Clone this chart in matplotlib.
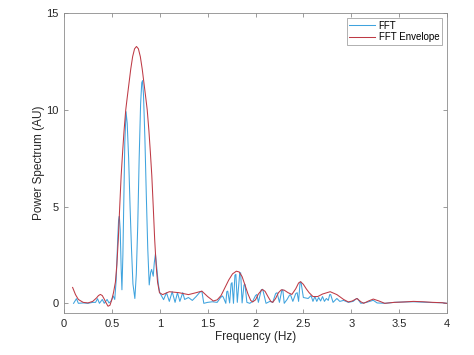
import matplotlib
matplotlib.use("Agg")
import matplotlib.pyplot as plt

plt.rcParams['font.family'] = ['Liberation Sans', 'DejaVu Sans']

# FFT (blue) trace
fft_freq = [0.10, 0.13, 0.15, 0.20, 0.25, 0.30, 0.33, 0.35, 0.37, 0.40, 0.42, 0.45, 0.47, 0.49,
            0.515, 0.53, 0.545, 0.56, 0.57, 0.578, 0.587, 0.597, 0.605,
            0.615, 0.625, 0.635, 0.648, 0.66, 0.675, 0.69, 0.705, 0.72, 0.74,
            0.755, 0.77, 0.785, 0.80, 0.812, 0.82, 0.83, 0.845, 0.86, 0.875, 0.89,
            0.905, 0.915, 0.925, 0.932, 0.943, 0.955, 0.97, 0.985, 1.00,
            1.04, 1.07, 1.10, 1.13, 1.16, 1.185, 1.21, 1.24, 1.26, 1.30, 1.34, 1.38, 1.42, 1.44,
            1.46, 1.50, 1.55, 1.60, 1.635, 1.655, 1.665, 1.69, 1.70, 1.71, 1.73, 1.745, 1.755,
            1.77, 1.785, 1.795, 1.81, 1.835, 1.845, 1.86, 1.88, 1.89, 1.91, 1.94, 1.97,
            2.00, 2.015, 2.03, 2.06, 2.075, 2.11, 2.15, 2.18, 2.21, 2.225, 2.25, 2.275, 2.285,
            2.30, 2.33, 2.355, 2.365, 2.39, 2.42, 2.435, 2.45, 2.465, 2.475, 2.50, 2.55, 2.58,
            2.60, 2.62, 2.64, 2.66, 2.68, 2.70, 2.72, 2.74, 2.76, 2.775, 2.785, 2.81, 2.85,
            2.88, 2.92, 2.97, 3.02, 3.055, 3.065, 3.10, 3.16, 3.225, 3.235, 3.27, 3.35, 3.45,
            3.55, 3.65, 3.75, 3.85, 3.95, 4.00]
fft_power = [0.00, 0.24, 0.00, 0.02, 0.00, 0.05, 0.05, 0.24, 0.00, 0.20, 0.00, 0.20, 0.02, 0.10,
             0.38, 0.20, 1.20, 3.20, 4.30, 4.50, 3.80, 1.80, 0.70,
             2.50, 5.50, 8.30, 9.90, 9.30, 7.50, 5.00, 2.80, 1.00, 0.25,
             1.50, 4.00, 7.50, 10.30, 11.40, 11.50, 10.80, 8.50, 5.50, 2.80, 0.95,
             1.60, 1.75, 1.55, 1.40, 2.10, 2.55, 1.80, 1.00, 0.55,
             0.19, 0.55, 0.10, 0.60, 0.05, 0.55, 0.10, 0.55, 0.20, 0.30, 0.15, 0.35, 0.58, 0.62,
             0.00, 0.05, 0.08, 0.05, 0.30, 0.38, 0.30, 0.00, 0.60, 0.63, 0.02, 1.00, 1.07,
             0.00, 1.45, 1.50, 0.05, 1.55, 1.58, 0.02, 0.95, 0.98, 0.05, 0.00, 0.10,
             0.40, 0.46, 0.05, 0.70, 0.72, 0.00, 0.10, 0.05, 0.50, 0.55, 0.05, 0.68, 0.70,
             0.00, 0.20, 0.42, 0.45, 0.10, 0.50, 0.55, 0.10, 1.05, 1.10, 0.30, 0.25, 0.40,
             0.10, 0.35, 0.10, 0.30, 0.12, 0.35, 0.10, 0.25, 0.15, 0.45, 0.45, 0.05, 0.25,
             0.10, 0.15, 0.05, 0.10, 0.25, 0.24, 0.00, 0.05, 0.15, 0.14, 0.02, 0.00, 0.05,
             0.07, 0.08, 0.06, 0.04, 0.03, 0.00]

# Envelope (red) trace
env_freq = [0.09, 0.12, 0.15, 0.20, 0.25, 0.30, 0.34, 0.36, 0.38, 0.40, 0.42, 0.44, 0.46, 0.48,
            0.50, 0.517, 0.537, 0.552, 0.567, 0.582, 0.597, 0.612, 0.627, 0.645, 0.657,
            0.677, 0.697, 0.717, 0.737, 0.757, 0.777, 0.797, 0.817, 0.837, 0.857, 0.869,
            0.887, 0.902, 0.917, 0.932, 0.947, 0.962, 0.977, 0.997, 1.03, 1.10, 1.20,
            1.30, 1.38, 1.44, 1.50, 1.56, 1.60, 1.64, 1.68, 1.72, 1.76, 1.80, 1.83, 1.86,
            1.89, 1.92, 1.95, 1.97, 2.00, 2.03, 2.07, 2.10, 2.13, 2.16, 2.18, 2.21, 2.24,
            2.27, 2.30, 2.34, 2.38, 2.42, 2.45, 2.47, 2.50, 2.53, 2.56, 2.60, 2.65, 2.70,
            2.78, 2.85, 2.92, 2.97, 3.01, 3.06, 3.10, 3.13, 3.18, 3.23, 3.29, 3.35, 3.45,
            3.55, 3.65, 3.75, 3.85, 3.95, 4.00]
env_power = [0.82, 0.45, 0.20, 0.05, 0.02, 0.10, 0.28, 0.40, 0.46, 0.40, 0.22, 0.02, -0.15, -0.10,
             0.20, 0.55, 1.10, 2.00, 3.30, 5.00, 6.60, 7.80, 8.90, 10.00, 10.50,
             11.30, 12.10, 12.75, 13.15, 13.27, 13.15, 12.75, 12.10, 11.30, 10.50, 10.00,
             8.90, 7.80, 6.60, 5.00, 3.30, 2.00, 1.10, 0.55, 0.45, 0.60, 0.55,
             0.45, 0.55, 0.63, 0.35, 0.12, 0.18, 0.40, 0.80, 1.20, 1.52, 1.66, 1.62, 1.38,
             0.95, 0.50, 0.15, 0.07, 0.18, 0.48, 0.72, 0.62, 0.35, 0.10, 0.05, 0.25, 0.55,
             0.70, 0.68, 0.55, 0.46, 0.75, 1.05, 1.12, 0.98, 0.75, 0.55, 0.35, 0.35, 0.48,
             0.60, 0.45, 0.20, 0.07, 0.12, 0.25, 0.08, 0.00, 0.12, 0.22, 0.12, 0.00, 0.05,
             0.07, 0.10, 0.08, 0.05, 0.03, 0.00]

x_ticks = [0, 0.5, 1, 1.5, 2, 2.5, 3, 3.5, 4]
x_ticklabels = ['0', '0.5', '1', '1.5', '2', '2.5', '3', '3.5', '4']
y_ticks = [0, 5, 10, 15]
y_ticklabels = ['0', '5', '10', '15']

fig = plt.figure(figsize=(4.74, 3.55), dpi=100)
ax = fig.add_axes([64/474, 42/355, 383/474, 300/355])

ax.plot(fft_freq, fft_power, color='#3FA3DE', lw=0.75, label='FFT')
ax.plot(env_freq, env_power, color='#BE3A45', lw=0.75, label='FFT Envelope')

ax.set_xlim(0, 4)
ax.set_ylim(-0.5, 15)
ax.set_xticks(x_ticks)
ax.set_xticklabels(x_ticklabels)
ax.set_yticks(y_ticks)
ax.set_yticklabels(y_ticklabels)

for s in ax.spines.values():
    s.set_color('#8c8c8c')
    s.set_linewidth(0.6)
ax.tick_params(direction='in', length=3, width=0.6, color='#8c8c8c',
               labelsize=8, labelcolor='#262626', top=True, right=True, pad=4)

ax.set_xlabel('Frequency (Hz)', fontsize=8.5, color='#262626', labelpad=2)
ax.set_ylabel('Power Spectrum (AU)', fontsize=8.5, color='#262626', labelpad=1)

leg = ax.legend(loc='upper right', fontsize=7, frameon=True, fancybox=False,
                handlelength=2.6, borderaxespad=0.5, borderpad=0.3, labelspacing=0.15,
                handletextpad=0.4)
leg.get_frame().set_edgecolor('#8c8c8c')
leg.get_frame().set_linewidth(0.6)

fig.savefig('out.png', dpi=100)
